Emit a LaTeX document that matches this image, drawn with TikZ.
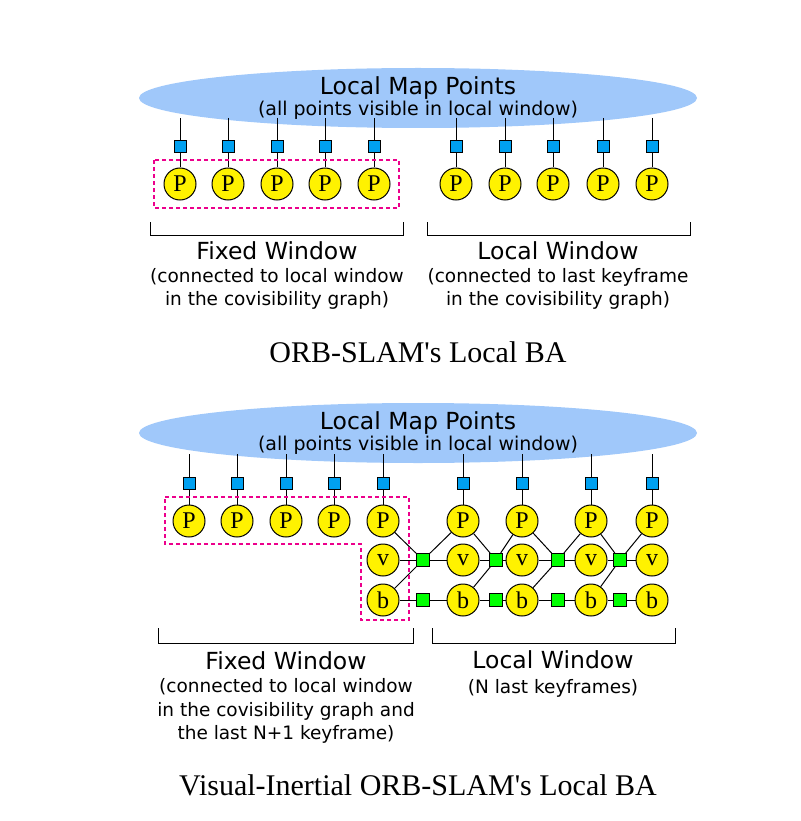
\documentclass[tikz,border=0pt]{standalone}
\usepackage{fontspec}
\usetikzlibrary{shapes.geometric}
\setmainfont{DejaVu Sans}
\newfontfamily\serifr{Liberation Serif}
\definecolor{ellc}{RGB}{160,200,250}
\definecolor{bfc}{RGB}{0,160,240}
\begin{document}
\begin{tikzpicture}[x=1pt,y=-1pt,line width=1pt,
 st/.style={circle,draw,fill=yellow,minimum size=32pt,inner sep=0pt,font=\serifr\fontsize{24}{24}\selectfont},
 bf/.style={draw,fill=bfc,minimum size=12pt,inner sep=0pt},
 gf/.style={draw,fill=green,minimum size=13pt,inner sep=0pt},
 dbox/.style={draw=magenta,dash pattern=on 4pt off 3pt,line width=1.2pt},
 ell/.style={ellipse,fill=ellc,minimum width=558pt,minimum height=60pt,draw=none},
 ttl/.style={font=\fontsize{23.5}{23.5}\selectfont},
 inl/.style={font=\fontsize{19}{19}\selectfont},
 sub/.style={font=\fontsize{18.5}{23.5}\selectfont,align=center},
 captxt/.style={font=\serifr\fontsize{30}{30}\selectfont}]
\useasboundingbox (0,0) rectangle (800,821);
% ---------- top ----------
\node[ell] (e1) at (418,98) {};
\node[ttl] (t1) at (418,88) {Local Map Points};
\node[inl] (t1b) at (418,110) {(all points visible in local window)};
\foreach \x [count=\i] in {180,228,277,325,374,456,505,553,603,652}{
  \node[st] (p\i) at (\x,184) {P};
  \node[bf] (f\i) at (\x,147) {};
  \coordinate (u\i) at (\x,118);
  \draw (u\i) -- (f\i) -- (p\i);
}
\draw[dbox] (154,160) rectangle (399,208);
\draw (150,222) -- (150,235) -- (403,235) -- (403,222);
\draw (427,222) -- (427,235) -- (690,235) -- (690,222);
\node[ttl] (fw1) at (277,251) {Fixed Window};
\node[sub] (fs1) at (277,289) {(connected to local window\\in the covisibility graph)};
\node[ttl] (lw1) at (558,251) {Local Window};
\node[sub] (ls1) at (558,289) {(connected to last keyframe\\in the covisibility graph)};
\node[captxt] (c1) at (418,352) {ORB-SLAM's Local BA};
% ---------- bottom ----------
\node[ell] (e2) at (418,433) {};
\node[ttl] (t2) at (418,423) {Local Map Points};
\node[inl] (t2b) at (418,445) {(all points visible in local window)};
\foreach \x [count=\i] in {189,237,286,334}{
  \node[st] (q\i) at (\x,521) {P};
  \node[bf] (g\i) at (\x,483) {};
  \coordinate (w\i) at (\x,454);
  \draw (w\i) -- (g\i) -- (q\i);
}
\foreach \x [count=\i] in {383,463,522,591,652}{
  \node[st] (P\i) at (\x,521) {P};
  \node[st] (V\i) at (\x,560) {v};
  \node[st] (B\i) at (\x,600) {b};
  \node[bf] (G\i) at (\x,483) {};
  \coordinate (W\i) at (\x,454);
  \draw (W\i) -- (G\i) -- (P\i);
}
\foreach \x [count=\i] in {423,496,558,620}{
  \pgfmathtruncatemacro\j{\i+1}
  \node[gf] (I\i) at (\x,560) {};
  \node[gf] (K\i) at (\x,600) {};
  \draw (P\i) -- (I\i) -- (P\j);
  \draw (V\i) -- (I\i) -- (V\j);
  \draw (B\i) -- (I\i);
  \draw (B\i) -- (K\i) -- (B\j);
}
\draw[dbox] (165,497) -- (409,497) -- (409,620) -- (361,620) -- (361,544) -- (165,544) -- cycle;
\draw (158,628) -- (158,643) -- (413,643) -- (413,628);
\draw (432,628) -- (432,643) -- (675,643) -- (675,628);
\node[ttl] (fw2) at (286,661) {Fixed Window};
\node[sub] (fs2) at (286,711) {(connected to local window\\in the covisibility graph and\\the last N+1 keyframe)};
\node[ttl] (lw2) at (553,660) {Local Window};
\node[sub] (ls2) at (553,688) {(N last keyframes)};
\node[captxt] (c2) at (418,785) {Visual-Inertial ORB-SLAM's Local BA};
\end{tikzpicture}
\end{document}
